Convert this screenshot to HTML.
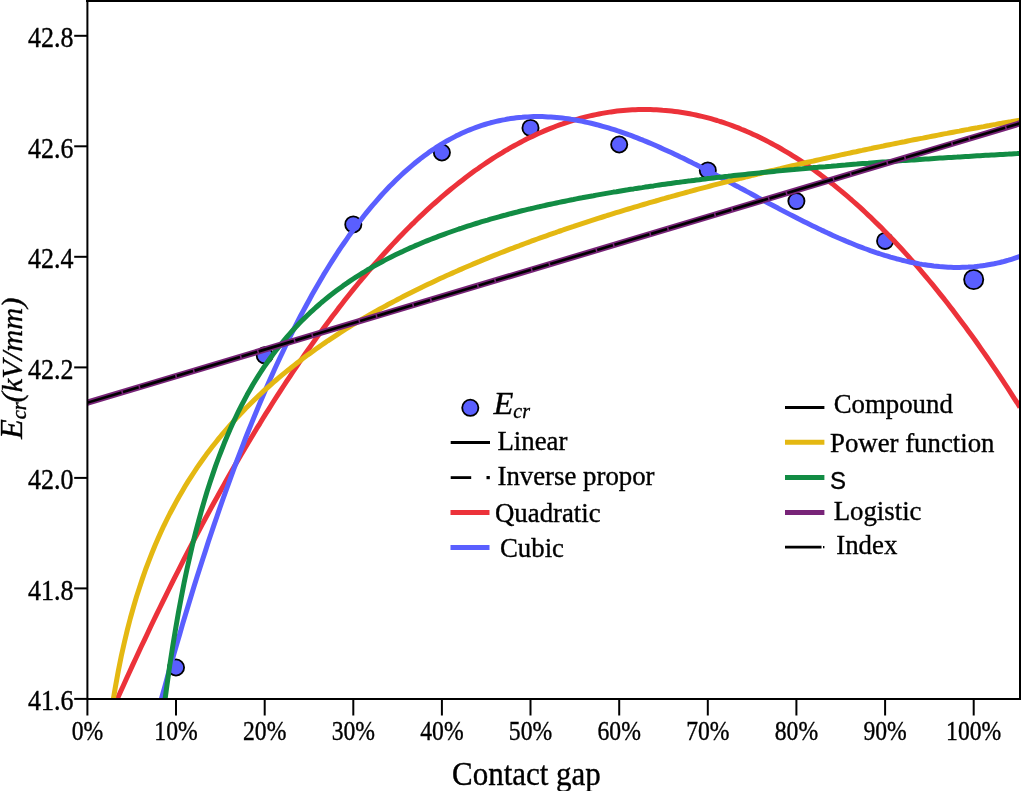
<!DOCTYPE html>
<html><head><meta charset="utf-8"><style>
html,body{margin:0;padding:0;background:#fff;}
body{width:1021px;height:791px;overflow:hidden;}
svg{display:block;}
text{font-family:"Liberation Serif","Times New Roman",serif;fill:#000;stroke:#000;stroke-width:0.35px;}
.tl{font-size:26px;}
.lg{font-size:26.8px;}
.ax{stroke:#000;stroke-width:2;fill:none;}
.c{fill:none;stroke-width:5;stroke-linejoin:round;}
.dot{fill:#5A5FFF;stroke:#000;stroke-width:1.8;}
</style></head><body>
<svg width="1021" height="791" viewBox="0 0 1021 791">
<rect x="0" y="0" width="1021" height="791" fill="#fff"/>
<defs><clipPath id="pa"><rect x="87" y="1" width="933" height="698"/></clipPath></defs>
<circle cx="176.0" cy="667.5" r="8.1" class="dot"/>
<circle cx="264.7" cy="355.3" r="8.1" class="dot"/>
<circle cx="353.3" cy="224.4" r="8.1" class="dot"/>
<circle cx="441.9" cy="152.5" r="8.1" class="dot"/>
<circle cx="530.5" cy="127.9" r="8.1" class="dot"/>
<circle cx="619.2" cy="144.5" r="8.1" class="dot"/>
<circle cx="707.8" cy="170.4" r="8.1" class="dot"/>
<circle cx="796.4" cy="201.1" r="8.1" class="dot"/>
<circle cx="885.1" cy="240.9" r="8.1" class="dot"/>
<circle cx="973.7" cy="279.5" r="9.6" class="dot"/>

<g clip-path="url(#pa)">
<polyline class="c" stroke="#EC323A" points="114.3,705.7 117.3,698.9 120.3,692.2 123.4,685.5 126.4,678.8 129.4,672.2 132.4,665.6 135.5,659.0 138.5,652.5 141.5,646.0 144.6,639.6 147.6,633.2 150.6,626.8 153.6,620.5 156.7,614.2 159.7,608.0 162.7,601.8 165.8,595.6 168.8,589.5 171.8,583.4 174.8,577.4 177.9,571.3 180.9,565.4 183.9,559.4 187.0,553.5 190.0,547.7 193.0,541.9 196.1,536.1 199.1,530.4 202.1,524.7 205.1,519.0 208.2,513.4 211.2,507.8 214.2,502.3 217.3,496.7 220.3,491.3 223.3,485.9 226.3,480.5 229.4,475.1 232.4,469.8 235.4,464.5 238.5,459.3 241.5,454.1 244.5,448.9 247.6,443.8 250.6,438.8 253.6,433.7 256.6,428.7 259.7,423.8 262.7,418.8 265.7,413.9 268.8,409.1 271.8,404.3 274.8,399.5 277.8,394.8 280.9,390.1 283.9,385.5 286.9,380.9 290.0,376.3 293.0,371.7 296.0,367.3 299.0,362.8 302.1,358.4 305.1,354.0 308.1,349.7 311.2,345.4 314.2,341.1 317.2,336.9 320.3,332.7 323.3,328.5 326.3,324.4 329.3,320.4 332.4,316.3 335.4,312.4 338.4,308.4 341.5,304.5 344.5,300.6 347.5,296.8 350.5,293.0 353.6,289.2 356.6,285.5 359.6,281.8 362.7,278.2 365.7,274.6 368.7,271.0 371.7,267.5 374.8,264.0 377.8,260.6 380.8,257.2 383.9,253.8 386.9,250.5 389.9,247.2 393.0,243.9 396.0,240.7 399.0,237.5 402.0,234.4 405.1,231.3 408.1,228.3 411.1,225.2 414.2,222.3 417.2,219.3 420.2,216.4 423.2,213.6 426.3,210.7 429.3,207.9 432.3,205.2 435.4,202.5 438.4,199.8 441.4,197.2 444.4,194.6 447.5,192.0 450.5,189.5 453.5,187.1 456.6,184.6 459.6,182.2 462.6,179.9 465.7,177.5 468.7,175.3 471.7,173.0 474.7,170.8 477.8,168.7 480.8,166.5 483.8,164.5 486.9,162.4 489.9,160.4 492.9,158.4 495.9,156.5 499.0,154.6 502.0,152.8 505.0,150.9 508.1,149.2 511.1,147.4 514.1,145.7 517.2,144.1 520.2,142.5 523.2,140.9 526.2,139.3 529.3,137.8 532.3,136.4 535.3,134.9 538.4,133.5 541.4,132.2 544.4,130.9 547.4,129.6 550.5,128.4 553.5,127.2 556.5,126.0 559.6,124.9 562.6,123.9 565.6,122.8 568.6,121.8 571.7,120.9 574.7,119.9 577.7,119.1 580.8,118.2 583.8,117.4 586.8,116.6 589.9,115.9 592.9,115.2 595.9,114.6 598.9,114.0 602.0,113.4 605.0,112.9 608.0,112.4 611.1,111.9 614.1,111.5 617.1,111.1 620.1,110.8 623.2,110.5 626.2,110.2 629.2,110.0 632.3,109.8 635.3,109.7 638.3,109.6 641.3,109.5 644.4,109.5 647.4,109.5 650.4,109.6 653.5,109.7 656.5,109.8 659.5,109.9 662.6,110.2 665.6,110.4 668.6,110.7 671.6,111.0 674.7,111.4 677.7,111.8 680.7,112.2 683.8,112.7 686.8,113.2 689.8,113.8 692.8,114.4 695.9,115.0 698.9,115.7 701.9,116.4 705.0,117.1 708.0,117.9 711.0,118.7 714.0,119.6 717.1,120.5 720.1,121.5 723.1,122.4 726.2,123.5 729.2,124.5 732.2,125.6 735.3,126.8 738.3,127.9 741.3,129.2 744.3,130.4 747.4,131.7 750.4,133.0 753.4,134.4 756.5,135.8 759.5,137.3 762.5,138.8 765.5,140.3 768.6,141.9 771.6,143.5 774.6,145.1 777.7,146.8 780.7,148.5 783.7,150.3 786.8,152.1 789.8,153.9 792.8,155.8 795.8,157.7 798.9,159.7 801.9,161.7 804.9,163.7 808.0,165.8 811.0,167.9 814.0,170.0 817.0,172.2 820.1,174.4 823.1,176.7 826.1,179.0 829.2,181.4 832.2,183.7 835.2,186.2 838.2,188.6 841.3,191.1 844.3,193.7 847.3,196.2 850.4,198.8 853.4,201.5 856.4,204.2 859.5,206.9 862.5,209.7 865.5,212.5 868.5,215.4 871.6,218.2 874.6,221.2 877.6,224.1 880.7,227.1 883.7,230.2 886.7,233.3 889.7,236.4 892.8,239.5 895.8,242.7 898.8,246.0 901.9,249.3 904.9,252.6 907.9,255.9 910.9,259.3 914.0,262.7 917.0,266.2 920.0,269.7 923.1,273.3 926.1,276.9 929.1,280.5 932.2,284.2 935.2,287.9 938.2,291.6 941.2,295.4 944.3,299.2 947.3,303.1 950.3,307.0 953.4,310.9 956.4,314.9 959.4,318.9 962.4,322.9 965.5,327.0 968.5,331.2 971.5,335.3 974.6,339.5 977.6,343.8 980.6,348.1 983.6,352.4 986.7,356.8 989.7,361.2 992.7,365.6 995.8,370.1 998.8,374.6 1001.8,379.2 1004.9,383.8 1007.9,388.4 1010.9,393.1 1013.9,397.8 1017.0,402.5 1020.0,407.3" />
<polyline class="c" stroke="#5A5FFF" points="159.5,705.8 162.4,695.2 165.3,684.8 168.1,674.4 171.0,664.2 173.9,654.1 176.8,644.1 179.7,634.2 182.5,624.4 185.4,614.8 188.3,605.2 191.2,595.8 194.0,586.5 196.9,577.3 199.8,568.2 202.7,559.2 205.6,550.4 208.4,541.6 211.3,533.0 214.2,524.4 217.1,516.0 219.9,507.7 222.8,499.5 225.7,491.4 228.6,483.4 231.5,475.5 234.3,467.7 237.2,460.0 240.1,452.4 243.0,444.9 245.8,437.5 248.7,430.3 251.6,423.1 254.5,416.0 257.4,409.0 260.2,402.2 263.1,395.4 266.0,388.7 268.9,382.1 271.7,375.7 274.6,369.3 277.5,363.0 280.4,356.8 283.3,350.7 286.1,344.7 289.0,338.8 291.9,332.9 294.8,327.2 297.6,321.6 300.5,316.0 303.4,310.6 306.3,305.2 309.2,300.0 312.0,294.8 314.9,289.7 317.8,284.7 320.7,279.7 323.5,274.9 326.4,270.2 329.3,265.5 332.2,260.9 335.1,256.4 337.9,252.0 340.8,247.7 343.7,243.5 346.6,239.3 349.4,235.2 352.3,231.2 355.2,227.3 358.1,223.5 361.0,219.7 363.8,216.0 366.7,212.4 369.6,208.9 372.5,205.4 375.4,202.1 378.2,198.8 381.1,195.5 384.0,192.4 386.9,189.3 389.7,186.3 392.6,183.4 395.5,180.5 398.4,177.7 401.3,175.0 404.1,172.4 407.0,169.8 409.9,167.3 412.8,164.9 415.6,162.5 418.5,160.2 421.4,157.9 424.3,155.8 427.2,153.7 430.0,151.6 432.9,149.7 435.8,147.7 438.7,145.9 441.5,144.1 444.4,142.4 447.3,140.7 450.2,139.1 453.1,137.6 455.9,136.1 458.8,134.7 461.7,133.3 464.6,132.0 467.4,130.8 470.3,129.6 473.2,128.5 476.1,127.4 479.0,126.4 481.8,125.4 484.7,124.5 487.6,123.6 490.5,122.8 493.3,122.1 496.2,121.4 499.1,120.7 502.0,120.1 504.9,119.6 507.7,119.0 510.6,118.6 513.5,118.2 516.4,117.8 519.2,117.5 522.1,117.3 525.0,117.0 527.9,116.9 530.8,116.7 533.6,116.6 536.5,116.6 539.4,116.6 542.3,116.6 545.1,116.7 548.0,116.9 550.9,117.0 553.8,117.2 556.7,117.5 559.5,117.8 562.4,118.1 565.3,118.4 568.2,118.8 571.0,119.3 573.9,119.7 576.8,120.2 579.7,120.8 582.6,121.3 585.4,122.0 588.3,122.6 591.2,123.3 594.1,124.0 596.9,124.7 599.8,125.5 602.7,126.3 605.6,127.1 608.5,127.9 611.3,128.8 614.2,129.7 617.1,130.7 620.0,131.6 622.8,132.6 625.7,133.6 628.6,134.7 631.5,135.7 634.4,136.8 637.2,137.9 640.1,139.1 643.0,140.2 645.9,141.4 648.8,142.6 651.6,143.8 654.5,145.0 657.4,146.3 660.3,147.6 663.1,148.9 666.0,150.2 668.9,151.5 671.8,152.8 674.7,154.2 677.5,155.6 680.4,157.0 683.3,158.3 686.2,159.8 689.0,161.2 691.9,162.6 694.8,164.1 697.7,165.5 700.6,167.0 703.4,168.5 706.3,170.0 709.2,171.5 712.1,173.0 714.9,174.5 717.8,176.0 720.7,177.5 723.6,179.0 726.5,180.6 729.3,182.1 732.2,183.6 735.1,185.2 738.0,186.7 740.8,188.3 743.7,189.8 746.6,191.4 749.5,192.9 752.4,194.5 755.2,196.0 758.1,197.6 761.0,199.1 763.9,200.7 766.7,202.2 769.6,203.8 772.5,205.3 775.4,206.8 778.3,208.3 781.1,209.9 784.0,211.4 786.9,212.9 789.8,214.4 792.6,215.8 795.5,217.3 798.4,218.8 801.3,220.2 804.2,221.7 807.0,223.1 809.9,224.5 812.8,225.9 815.7,227.3 818.5,228.7 821.4,230.1 824.3,231.4 827.2,232.8 830.1,234.1 832.9,235.4 835.8,236.7 838.7,238.0 841.6,239.2 844.4,240.4 847.3,241.7 850.2,242.8 853.1,244.0 856.0,245.2 858.8,246.3 861.7,247.4 864.6,248.5 867.5,249.5 870.3,250.6 873.2,251.6 876.1,252.6 879.0,253.5 881.9,254.5 884.7,255.4 887.6,256.2 890.5,257.1 893.4,257.9 896.3,258.7 899.1,259.4 902.0,260.2 904.9,260.9 907.8,261.5 910.6,262.2 913.5,262.8 916.4,263.3 919.3,263.9 922.2,264.4 925.0,264.8 927.9,265.2 930.8,265.6 933.7,266.0 936.5,266.3 939.4,266.6 942.3,266.8 945.2,267.0 948.1,267.2 950.9,267.3 953.8,267.4 956.7,267.4 959.6,267.4 962.4,267.3 965.3,267.2 968.2,267.1 971.1,266.9 974.0,266.7 976.8,266.4 979.7,266.1 982.6,265.7 985.5,265.3 988.3,264.8 991.2,264.3 994.1,263.8 997.0,263.1 999.9,262.5 1002.7,261.8 1005.6,261.0 1008.5,260.2 1011.4,259.3 1014.2,258.4 1017.1,257.4 1020.0,256.4" />
<polyline class="c" stroke="#E4B812" points="112.2,705.9 115.3,687.5 118.3,671.0 121.3,656.0 124.4,642.3 127.4,629.7 130.4,618.0 133.5,607.0 136.5,596.8 139.6,587.2 142.6,578.1 145.6,569.5 148.7,561.4 151.7,553.6 154.7,546.2 157.8,539.1 160.8,532.3 163.8,525.8 166.9,519.5 169.9,513.5 173.0,507.7 176.0,502.1 179.0,496.7 182.1,491.4 185.1,486.3 188.1,481.4 191.2,476.6 194.2,472.0 197.2,467.4 200.3,463.0 203.3,458.8 206.3,454.6 209.4,450.5 212.4,446.6 215.5,442.7 218.5,438.9 221.5,435.2 224.6,431.6 227.6,428.1 230.6,424.6 233.7,421.2 236.7,417.9 239.7,414.7 242.8,411.5 245.8,408.3 248.9,405.3 251.9,402.3 254.9,399.3 258.0,396.4 261.0,393.5 264.0,390.7 267.1,388.0 270.1,385.3 273.1,382.6 276.2,380.0 279.2,377.4 282.2,374.9 285.3,372.4 288.3,369.9 291.4,367.5 294.4,365.1 297.4,362.7 300.5,360.4 303.5,358.1 306.5,355.8 309.6,353.6 312.6,351.4 315.6,349.2 318.7,347.1 321.7,345.0 324.8,342.9 327.8,340.8 330.8,338.8 333.9,336.8 336.9,334.8 339.9,332.8 343.0,330.9 346.0,329.0 349.0,327.1 352.1,325.2 355.1,323.4 358.1,321.6 361.2,319.7 364.2,318.0 367.3,316.2 370.3,314.4 373.3,312.7 376.4,311.0 379.4,309.3 382.4,307.6 385.5,306.0 388.5,304.3 391.5,302.7 394.6,301.1 397.6,299.5 400.7,297.9 403.7,296.3 406.7,294.8 409.8,293.2 412.8,291.7 415.8,290.2 418.9,288.7 421.9,287.2 424.9,285.8 428.0,284.3 431.0,282.9 434.1,281.4 437.1,280.0 440.1,278.6 443.2,277.2 446.2,275.8 449.2,274.5 452.3,273.1 455.3,271.8 458.3,270.4 461.4,269.1 464.4,267.8 467.4,266.5 470.5,265.2 473.5,263.9 476.6,262.6 479.6,261.4 482.6,260.1 485.7,258.9 488.7,257.6 491.7,256.4 494.8,255.2 497.8,254.0 500.8,252.8 503.9,251.6 506.9,250.4 510.0,249.2 513.0,248.1 516.0,246.9 519.1,245.8 522.1,244.6 525.1,243.5 528.2,242.4 531.2,241.2 534.2,240.1 537.3,239.0 540.3,237.9 543.3,236.9 546.4,235.8 549.4,234.7 552.5,233.6 555.5,232.6 558.5,231.5 561.6,230.5 564.6,229.4 567.6,228.4 570.7,227.4 573.7,226.4 576.7,225.3 579.8,224.3 582.8,223.3 585.9,222.3 588.9,221.3 591.9,220.4 595.0,219.4 598.0,218.4 601.0,217.5 604.1,216.5 607.1,215.5 610.1,214.6 613.2,213.6 616.2,212.7 619.2,211.8 622.3,210.8 625.3,209.9 628.4,209.0 631.4,208.1 634.4,207.2 637.5,206.3 640.5,205.4 643.5,204.5 646.6,203.6 649.6,202.7 652.6,201.8 655.7,201.0 658.7,200.1 661.8,199.2 664.8,198.4 667.8,197.5 670.9,196.7 673.9,195.8 676.9,195.0 680.0,194.1 683.0,193.3 686.0,192.5 689.1,191.7 692.1,190.8 695.1,190.0 698.2,189.2 701.2,188.4 704.3,187.6 707.3,186.8 710.3,186.0 713.4,185.2 716.4,184.4 719.4,183.6 722.5,182.8 725.5,182.1 728.5,181.3 731.6,180.5 734.6,179.8 737.7,179.0 740.7,178.2 743.7,177.5 746.8,176.7 749.8,176.0 752.8,175.2 755.9,174.5 758.9,173.7 761.9,173.0 765.0,172.3 768.0,171.5 771.0,170.8 774.1,170.1 777.1,169.4 780.2,168.7 783.2,167.9 786.2,167.2 789.3,166.5 792.3,165.8 795.3,165.1 798.4,164.4 801.4,163.7 804.4,163.0 807.5,162.3 810.5,161.6 813.6,161.0 816.6,160.3 819.6,159.6 822.7,158.9 825.7,158.3 828.7,157.6 831.8,156.9 834.8,156.3 837.8,155.6 840.9,154.9 843.9,154.3 846.9,153.6 850.0,153.0 853.0,152.3 856.1,151.7 859.1,151.0 862.1,150.4 865.2,149.7 868.2,149.1 871.2,148.5 874.3,147.8 877.3,147.2 880.3,146.6 883.4,146.0 886.4,145.3 889.5,144.7 892.5,144.1 895.5,143.5 898.6,142.9 901.6,142.3 904.6,141.7 907.7,141.0 910.7,140.4 913.7,139.8 916.8,139.2 919.8,138.6 922.8,138.1 925.9,137.5 928.9,136.9 932.0,136.3 935.0,135.7 938.0,135.1 941.1,134.5 944.1,133.9 947.1,133.4 950.2,132.8 953.2,132.2 956.2,131.6 959.3,131.1 962.3,130.5 965.4,129.9 968.4,129.4 971.4,128.8 974.5,128.2 977.5,127.7 980.5,127.1 983.6,126.6 986.6,126.0 989.6,125.5 992.7,124.9 995.7,124.4 998.7,123.8 1001.8,123.3 1004.8,122.7 1007.9,122.2 1010.9,121.7 1013.9,121.1 1017.0,120.6 1020.0,120.1" />
<polyline class="c" stroke="#128C44" points="164.1,706.4 167.0,684.9 169.8,665.0 172.7,646.4 175.6,628.9 178.4,612.6 181.3,597.2 184.1,582.7 187.0,569.1 189.9,556.2 192.7,544.0 195.6,532.4 198.5,521.5 201.3,511.1 204.2,501.1 207.0,491.7 209.9,482.7 212.8,474.1 215.6,465.9 218.5,458.0 221.4,450.5 224.2,443.3 227.1,436.4 229.9,429.7 232.8,423.3 235.7,417.2 238.5,411.3 241.4,405.6 244.3,400.1 247.1,394.8 250.0,389.7 252.8,384.8 255.7,380.0 258.6,375.4 261.4,371.0 264.3,366.7 267.2,362.5 270.0,358.5 272.9,354.5 275.7,350.8 278.6,347.1 281.5,343.5 284.3,340.0 287.2,336.6 290.1,333.4 292.9,330.2 295.8,327.1 298.6,324.0 301.5,321.1 304.4,318.2 307.2,315.5 310.1,312.7 313.0,310.1 315.8,307.5 318.7,305.0 321.5,302.5 324.4,300.1 327.3,297.8 330.1,295.5 333.0,293.3 335.9,291.1 338.7,289.0 341.6,286.9 344.4,284.8 347.3,282.9 350.2,280.9 353.0,279.0 355.9,277.1 358.8,275.3 361.6,273.5 364.5,271.8 367.3,270.0 370.2,268.4 373.1,266.7 375.9,265.1 378.8,263.5 381.7,262.0 384.5,260.4 387.4,258.9 390.2,257.5 393.1,256.0 396.0,254.6 398.8,253.2 401.7,251.9 404.6,250.5 407.4,249.2 410.3,247.9 413.1,246.7 416.0,245.4 418.9,244.2 421.7,243.0 424.6,241.8 427.5,240.6 430.3,239.5 433.2,238.4 436.0,237.3 438.9,236.2 441.8,235.1 444.6,234.1 447.5,233.0 450.4,232.0 453.2,231.0 456.1,230.0 458.9,229.0 461.8,228.1 464.7,227.1 467.5,226.2 470.4,225.3 473.3,224.4 476.1,223.5 479.0,222.6 481.8,221.7 484.7,220.9 487.6,220.1 490.4,219.2 493.3,218.4 496.2,217.6 499.0,216.8 501.9,216.0 504.7,215.3 507.6,214.5 510.5,213.7 513.3,213.0 516.2,212.3 519.1,211.5 521.9,210.8 524.8,210.1 527.6,209.4 530.5,208.8 533.4,208.1 536.2,207.4 539.1,206.8 542.0,206.1 544.8,205.5 547.7,204.8 550.5,204.2 553.4,203.6 556.3,203.0 559.1,202.4 562.0,201.8 564.9,201.2 567.7,200.6 570.6,200.0 573.4,199.5 576.3,198.9 579.2,198.3 582.0,197.8 584.9,197.2 587.8,196.7 590.6,196.2 593.5,195.7 596.3,195.1 599.2,194.6 602.1,194.1 604.9,193.6 607.8,193.1 610.7,192.6 613.5,192.1 616.4,191.7 619.2,191.2 622.1,190.7 625.0,190.2 627.8,189.8 630.7,189.3 633.6,188.9 636.4,188.4 639.3,188.0 642.1,187.6 645.0,187.1 647.9,186.7 650.7,186.3 653.6,185.9 656.5,185.4 659.3,185.0 662.2,184.6 665.0,184.2 667.9,183.8 670.8,183.4 673.6,183.0 676.5,182.6 679.4,182.3 682.2,181.9 685.1,181.5 687.9,181.1 690.8,180.8 693.7,180.4 696.5,180.0 699.4,179.7 702.3,179.3 705.1,179.0 708.0,178.6 710.8,178.3 713.7,177.9 716.6,177.6 719.4,177.3 722.3,176.9 725.2,176.6 728.0,176.3 730.9,175.9 733.7,175.6 736.6,175.3 739.5,175.0 742.3,174.7 745.2,174.4 748.1,174.1 750.9,173.8 753.8,173.5 756.6,173.2 759.5,172.9 762.4,172.6 765.2,172.3 768.1,172.0 771.0,171.7 773.8,171.4 776.7,171.1 779.5,170.8 782.4,170.6 785.3,170.3 788.1,170.0 791.0,169.7 793.9,169.5 796.7,169.2 799.6,168.9 802.4,168.7 805.3,168.4 808.2,168.2 811.0,167.9 813.9,167.6 816.8,167.4 819.6,167.1 822.5,166.9 825.3,166.7 828.2,166.4 831.1,166.2 833.9,165.9 836.8,165.7 839.7,165.4 842.5,165.2 845.4,165.0 848.2,164.7 851.1,164.5 854.0,164.3 856.8,164.1 859.7,163.8 862.6,163.6 865.4,163.4 868.3,163.2 871.1,162.9 874.0,162.7 876.9,162.5 879.7,162.3 882.6,162.1 885.5,161.9 888.3,161.7 891.2,161.5 894.0,161.3 896.9,161.1 899.8,160.8 902.6,160.6 905.5,160.4 908.4,160.2 911.2,160.0 914.1,159.9 916.9,159.7 919.8,159.5 922.7,159.3 925.5,159.1 928.4,158.9 931.3,158.7 934.1,158.5 937.0,158.3 939.8,158.1 942.7,158.0 945.6,157.8 948.4,157.6 951.3,157.4 954.2,157.2 957.0,157.1 959.9,156.9 962.7,156.7 965.6,156.5 968.5,156.4 971.3,156.2 974.2,156.0 977.1,155.8 979.9,155.7 982.8,155.5 985.6,155.3 988.5,155.2 991.4,155.0 994.2,154.9 997.1,154.7 1000.0,154.5 1002.8,154.4 1005.7,154.2 1008.5,154.1 1011.4,153.9 1014.3,153.7 1017.1,153.6 1020.0,153.4" />
<polyline class="c" stroke="#782478" style="stroke-width:6.2" points="87.0,402.8 1020.0,123.3" />
<polyline class="c" stroke="#000" style="stroke-width:2.7;stroke-linejoin:miter" stroke-dasharray="16.35 1.6 36.6 1.6 16.9 1.6 47.5 1.6" stroke-dashoffset="86.15" points="87.0,402.8 1020.0,123.3" />
</g>
<path d="M87.4,0 V698.9 H1020 V0" class="ax"/>
<line x1="86" y1="1" x2="1021" y2="1" class="ax"/>
<line x1="74.2" y1="35.8" x2="87" y2="35.8" class="ax"/>
<text transform="translate(73.6,47.0) scale(1.0,1.14)" class="tl" text-anchor="end">42.8</text>
<line x1="74.2" y1="146.3" x2="87" y2="146.3" class="ax"/>
<text transform="translate(73.6,157.5) scale(1.0,1.14)" class="tl" text-anchor="end">42.6</text>
<line x1="74.2" y1="256.8" x2="87" y2="256.8" class="ax"/>
<text transform="translate(73.6,268.0) scale(1.0,1.14)" class="tl" text-anchor="end">42.4</text>
<line x1="74.2" y1="367.4" x2="87" y2="367.4" class="ax"/>
<text transform="translate(73.6,378.6) scale(1.0,1.14)" class="tl" text-anchor="end">42.2</text>
<line x1="74.2" y1="477.9" x2="87" y2="477.9" class="ax"/>
<text transform="translate(73.6,489.1) scale(1.0,1.14)" class="tl" text-anchor="end">42.0</text>
<line x1="74.2" y1="588.4" x2="87" y2="588.4" class="ax"/>
<text transform="translate(73.6,599.6) scale(1.0,1.14)" class="tl" text-anchor="end">41.8</text>
<line x1="74.2" y1="698.9" x2="87" y2="698.9" class="ax"/>
<text transform="translate(73.6,710.1) scale(1.0,1.14)" class="tl" text-anchor="end">41.6</text>

<line x1="87.4" y1="699" x2="87.4" y2="715.5" class="ax"/>
<text transform="translate(87.4,739.5) scale(0.91,1.08)" class="tl" text-anchor="middle">0%</text>
<line x1="176.0" y1="699" x2="176.0" y2="715.5" class="ax"/>
<text transform="translate(176.0,739.5) scale(0.91,1.08)" class="tl" text-anchor="middle">10%</text>
<line x1="264.7" y1="699" x2="264.7" y2="715.5" class="ax"/>
<text transform="translate(264.7,739.5) scale(0.91,1.08)" class="tl" text-anchor="middle">20%</text>
<line x1="353.3" y1="699" x2="353.3" y2="715.5" class="ax"/>
<text transform="translate(353.3,739.5) scale(0.91,1.08)" class="tl" text-anchor="middle">30%</text>
<line x1="441.9" y1="699" x2="441.9" y2="715.5" class="ax"/>
<text transform="translate(441.9,739.5) scale(0.91,1.08)" class="tl" text-anchor="middle">40%</text>
<line x1="530.5" y1="699" x2="530.5" y2="715.5" class="ax"/>
<text transform="translate(530.5,739.5) scale(0.91,1.08)" class="tl" text-anchor="middle">50%</text>
<line x1="619.2" y1="699" x2="619.2" y2="715.5" class="ax"/>
<text transform="translate(619.2,739.5) scale(0.91,1.08)" class="tl" text-anchor="middle">60%</text>
<line x1="707.8" y1="699" x2="707.8" y2="715.5" class="ax"/>
<text transform="translate(707.8,739.5) scale(0.91,1.08)" class="tl" text-anchor="middle">70%</text>
<line x1="796.4" y1="699" x2="796.4" y2="715.5" class="ax"/>
<text transform="translate(796.4,739.5) scale(0.91,1.08)" class="tl" text-anchor="middle">80%</text>
<line x1="885.1" y1="699" x2="885.1" y2="715.5" class="ax"/>
<text transform="translate(885.1,739.5) scale(0.91,1.08)" class="tl" text-anchor="middle">90%</text>
<line x1="973.7" y1="699" x2="973.7" y2="715.5" class="ax"/>
<text transform="translate(973.7,739.5) scale(0.91,1.08)" class="tl" text-anchor="middle">100%</text>

<text transform="translate(452,784.5) scale(1,1.11)" class="tl" style="font-size:31px">Contact gap</text>
<text transform="translate(21.7,439) rotate(-90) scale(1.015,1)" style="font-size:30px;font-style:italic"><tspan font-size="31.8">E</tspan><tspan font-size="20" dy="4.5">cr</tspan><tspan dy="-4.5">(kV/mm)</tspan></text>
<!-- legend -->
<circle cx="470.3" cy="407.8" r="8.1" class="dot"/>
<text x="493.5" y="413.5" class="lg" style="font-style:italic;font-size:32.5px">E<tspan font-size="20" dy="4.3">cr</tspan></text>
<line x1="450.7" y1="442.5" x2="490" y2="442.5" stroke="#000" stroke-width="2.8"/>
<text x="497.5" y="450" class="lg">Linear</text>
<line x1="450.7" y1="477.6" x2="471.2" y2="477.6" stroke="#000" stroke-width="2.8"/>
<rect x="486.5" y="476" width="3.3" height="3.2" fill="#000"/>
<text x="497.5" y="485" class="lg">Inverse propor</text>
<line x1="450.5" y1="512.4" x2="489.5" y2="512.4" stroke="#EC323A" stroke-width="5"/>
<text x="495" y="521.5" class="lg">Quadratic</text>
<line x1="450.5" y1="547.4" x2="489.5" y2="547.4" stroke="#5A5FFF" stroke-width="5"/>
<text x="500" y="557" class="lg">Cubic</text>
<line x1="785" y1="407.5" x2="824.4" y2="407.5" stroke="#000" stroke-width="2.8"/>
<text x="833.7" y="413" class="lg">Compound</text>
<line x1="785" y1="442.3" x2="824.4" y2="442.3" stroke="#E4B812" stroke-width="5"/>
<text x="830" y="452" class="lg">Power function</text>
<line x1="785" y1="477.4" x2="824.4" y2="477.4" stroke="#128C44" stroke-width="5"/>
<text x="830" y="489.3" style="font-family:'Liberation Sans',Arial,sans-serif;font-size:24px">S</text>
<line x1="785" y1="512.5" x2="824.4" y2="512.5" stroke="#782478" stroke-width="5"/>
<text x="833.7" y="519.6" class="lg">Logistic</text>
<line x1="785" y1="547.1" x2="821.5" y2="547.1" stroke="#000" stroke-width="2.6"/>
<line x1="823" y1="547.1" x2="824.4" y2="547.1" stroke="#000" stroke-width="2.2"/>
<text x="836.3" y="554" class="lg">Index</text>
</svg>
</body></html>
